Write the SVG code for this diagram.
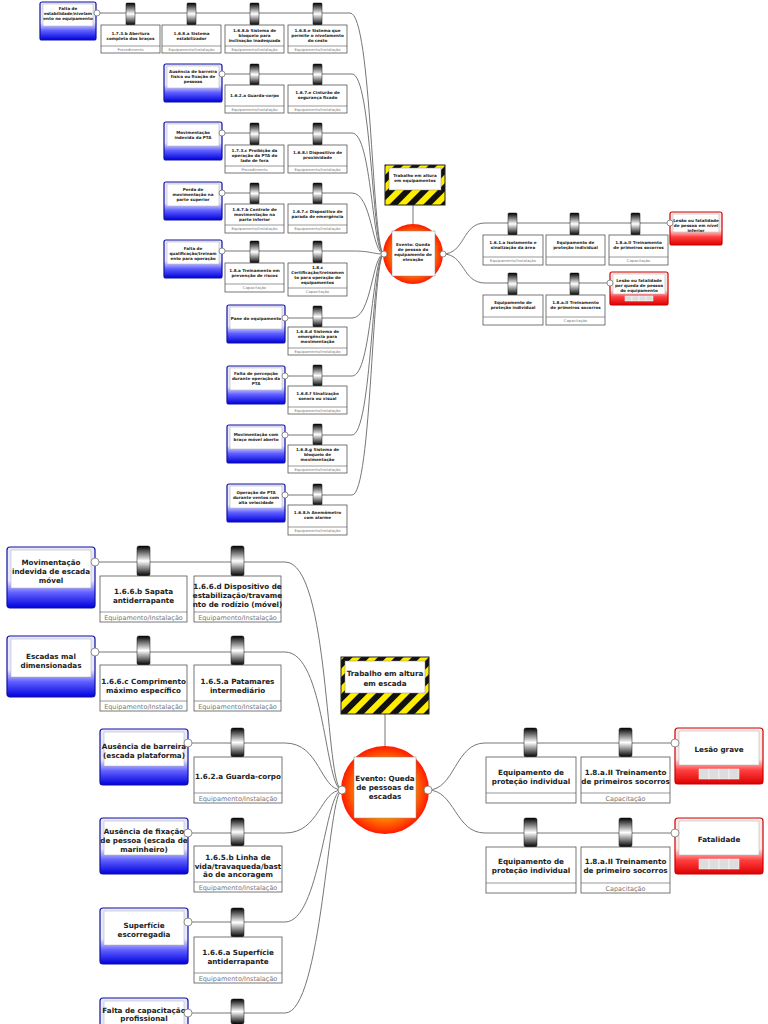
<svg xmlns="http://www.w3.org/2000/svg" width="768" height="1024" viewBox="0 0 768 1024">
<style>
.c{fill:none;stroke:#777;stroke-width:1}
.bx{fill:#fff;stroke:#555;stroke-width:.8}
.dv{stroke:#555;stroke-width:.6}
.t{font-family:"DejaVu Sans",sans-serif;font-weight:bold;fill:#222;text-anchor:middle}
.s{font-size:4.1px}.l{font-size:7.2px}
.k{font-family:"DejaVu Sans",sans-serif;fill:#777;text-anchor:middle}
.ks{font-size:3.8px}.kl{font-size:6.5px}
.th{fill:url(#bg);stroke:#1010a0;stroke-width:1.2}
.in{fill:#fff;stroke:#aaa;stroke-width:.5}
.br{fill:url(#bar);stroke:#111;stroke-width:.5}
.mn{fill:#fff;stroke:#666;stroke-width:.7}
.cq{fill:url(#rg);stroke:#c00;stroke-width:1.2}
.sq{fill:#ddd;stroke:#fff;stroke-width:.5}
</style>
<defs>
<linearGradient id="bg" x1="0" y1="0" x2="0" y2="1"><stop offset="0.55" stop-color="#e8e8ff"/><stop offset="0.75" stop-color="#6060ff"/><stop offset="1" stop-color="#0000dd"/></linearGradient>
<linearGradient id="rg" x1="0" y1="0" x2="0" y2="1"><stop offset="0.55" stop-color="#ffe8e8"/><stop offset="0.75" stop-color="#ff4040"/><stop offset="1" stop-color="#dd0000"/></linearGradient>
<linearGradient id="bar" x1="0" y1="0" x2="0" y2="1"><stop offset="0" stop-color="#000"/><stop offset="0.5" stop-color="#fff"/><stop offset="1" stop-color="#000"/></linearGradient>
<radialGradient id="ev" cx="0.5" cy="0.5" r="0.5"><stop offset="0.4" stop-color="#ffd000"/><stop offset="1" stop-color="#ff1a00"/></radialGradient>
<pattern id="hz" width="12" height="12" patternUnits="userSpaceOnUse" patternTransform="rotate(45)"><rect width="12" height="12" fill="#ffee00"/><rect width="6" height="12" fill="#111"/></pattern>
</defs>

<g id="connectors">
<path class="c" d="M100,13 H350 C372,13 372,254 384,254"/>
<path class="c" d="M225,74 H352 C372,74 372,254 384,254"/>
<path class="c" d="M225,133 H352 C372,133 372,254 384,254"/>
<path class="c" d="M225,193 H352 C372,193 372,254 384,254"/>
<path class="c" d="M225,251 H352 C372,251 372,254 384,254"/>
<path class="c" d="M288,318 H352 C372,318 372,254 384,254"/>
<path class="c" d="M288,376 H352 C372,376 372,254 384,254"/>
<path class="c" d="M288,435 H352 C372,435 372,254 384,254"/>
<path class="c" d="M288,495 H352 C372,495 372,254 384,254"/>
<path class="c" d="M413,205 V224"/>
<path class="c" d="M443,254 C465,254 462,223 485,223 H670"/>
<path class="c" d="M443,254 C465,254 462,283 485,283 H610"/>
<path class="c" d="M99,562 H285 C330,562 325,790 342,790"/>
<path class="c" d="M99,652 H285 C325,652 325,790 342,790"/>
<path class="c" d="M192,743 H285 C320,743 320,790 342,790"/>
<path class="c" d="M192,833 H285 C320,833 320,790 342,790"/>
<path class="c" d="M192,922 H285 C320,922 325,790 342,790"/>
<path class="c" d="M192,1013 H285 C322,1013 328,790 342,790"/>
<path class="c" d="M385,714 V746"/>
<path class="c" d="M428,790 C455,790 455,743 485,743 H675"/>
<path class="c" d="M428,790 C455,790 455,833 485,833 H675"/>
</g>

<g id="hazard1"><rect x="385" y="165" width="60" height="40" fill="url(#hz)" stroke="#222"/><rect x="389" y="168" width="52" height="22" fill="#fff" stroke="#888" stroke-width=".5"/><text class="t s" x="415" y="177">Trabalho em altura<tspan x="415" dy="5">em equipamentos</tspan></text></g>
<g id="event1"><circle cx="413" cy="254" r="30" fill="url(#ev)"/><rect x="392" y="231" width="43" height="45" fill="#fff" stroke="#888" stroke-width=".5"/><text class="t s" x="413" y="246">Evento: Queda<tspan x="413" dy="5">de pessoa do</tspan><tspan x="413" dy="5">equipamento de</tspan><tspan x="413" dy="5">elevação</tspan></text><circle class="mn" cx="384" cy="254" r="3"/><circle class="mn" cx="443" cy="254" r="3"/></g>

<g id="t1"><rect class="th" x="40" y="2" width="56" height="38" rx="2"/><rect class="in" x="43" y="4" width="50" height="22"/><text class="t s" x="68" y="10">Falta de<tspan x="68" dy="5">estabilidade/nivelam</tspan><tspan x="68" dy="5">ento no equipamento</tspan></text><circle class="mn" cx="97" cy="13" r="3"/></g>
<g id="t2"><rect class="th" x="164" y="64" width="58" height="38" rx="2"/><rect class="in" x="167" y="66" width="52" height="22"/><text class="t s" x="193" y="73">Ausência de barreira<tspan x="193" dy="5">física ou fixação de</tspan><tspan x="193" dy="5">pessoas</tspan></text><circle class="mn" cx="222" cy="74" r="3"/></g>
<g id="t3"><rect class="th" x="164" y="122" width="58" height="38" rx="2"/><rect class="in" x="167" y="124" width="52" height="22"/><text class="t s" x="193" y="134">Movimentação<tspan x="193" dy="5">indevida da PTA</tspan></text><circle class="mn" cx="222" cy="133" r="3"/></g>
<g id="t4"><rect class="th" x="164" y="182" width="58" height="38" rx="2"/><rect class="in" x="167" y="184" width="52" height="22"/><text class="t s" x="193" y="191">Perda de<tspan x="193" dy="5">movimentação na</tspan><tspan x="193" dy="5">parte superior</tspan></text><circle class="mn" cx="222" cy="193" r="3"/></g>
<g id="t5"><rect class="th" x="164" y="240" width="58" height="38" rx="2"/><rect class="in" x="167" y="242" width="52" height="22"/><text class="t s" x="193" y="250">Falta de<tspan x="193" dy="5">qualificação/treinam</tspan><tspan x="193" dy="5">ento para operação</tspan></text><circle class="mn" cx="222" cy="251" r="3"/></g>
<g id="t6"><rect class="th" x="227" y="305" width="58" height="38" rx="2"/><rect class="in" x="230" y="307" width="52" height="22"/><text class="t s" x="256" y="320">Pane do equipamento</text><circle class="mn" cx="285" cy="318" r="3"/></g>
<g id="t7"><rect class="th" x="227" y="366" width="58" height="38" rx="2"/><rect class="in" x="230" y="368" width="52" height="22"/><text class="t s" x="256" y="375">Falta de percepção<tspan x="256" dy="5">durante operação da</tspan><tspan x="256" dy="5">PTA</tspan></text><circle class="mn" cx="285" cy="376" r="3"/></g>
<g id="t8"><rect class="th" x="227" y="425" width="58" height="38" rx="2"/><rect class="in" x="230" y="427" width="52" height="22"/><text class="t s" x="256" y="436">Movimentação com<tspan x="256" dy="5">braço móvel aberto</tspan></text><circle class="mn" cx="285" cy="435" r="3"/></g>
<g id="t9"><rect class="th" x="227" y="484" width="58" height="38" rx="2"/><rect class="in" x="230" y="486" width="52" height="22"/><text class="t s" x="256" y="494">Operação de PTA<tspan x="256" dy="5">durante ventos com</tspan><tspan x="256" dy="5">alta velocidade</tspan></text><circle class="mn" cx="285" cy="495" r="3"/></g>

<g id="b1a"><rect class="br" x="126" y="3" width="9" height="22" rx="1"/><rect class="bx" x="101" y="25" width="59" height="28"/><line class="dv" x1="101" y1="46" x2="160" y2="46"/><text class="t s" x="130.5" y="35">1.7.3.b Abertura<tspan x="130.5" dy="5">completa dos braços</tspan></text><text class="k ks" x="130.5" y="51">Procedimento</text></g>
<g id="b1b"><rect class="br" x="187" y="3" width="9" height="22" rx="1"/><rect class="bx" x="162" y="25" width="59" height="28"/><line class="dv" x1="162" y1="46" x2="221" y2="46"/><text class="t s" x="191.5" y="35">1.6.8.a Sistema<tspan x="191.5" dy="5">estabilizador</tspan></text><text class="k ks" x="191.5" y="51">Equipamento/Instalação</text></g>
<g id="b1c"><rect class="br" x="250" y="3" width="9" height="22" rx="1"/><rect class="bx" x="225" y="25" width="59" height="28"/><line class="dv" x1="225" y1="46" x2="284" y2="46"/><text class="t s" x="254.5" y="32">1.6.8.b Sistema de<tspan x="254.5" dy="5">bloqueio para</tspan><tspan x="254.5" dy="5">inclinação inadequada</tspan></text><text class="k ks" x="254.5" y="51">Equipamento/Instalação</text></g>
<g id="b1d"><rect class="br" x="313" y="3" width="9" height="22" rx="1"/><rect class="bx" x="288" y="25" width="59" height="28"/><line class="dv" x1="288" y1="46" x2="347" y2="46"/><text class="t s" x="317.5" y="32">1.6.8.e Sistema que<tspan x="317.5" dy="5">permite o nivelamento</tspan><tspan x="317.5" dy="5">do cesto</tspan></text><text class="k ks" x="317.5" y="51">Equipamento/Instalação</text></g>

<g id="b2a"><rect class="br" x="250" y="64" width="9" height="21" rx="1"/><rect class="bx" x="225" y="85" width="59" height="28"/><line class="dv" x1="225" y1="106" x2="284" y2="106"/><text class="t s" x="254.5" y="97">1.6.2.a Guarda-corpo</text><text class="k ks" x="254.5" y="111">Equipamento/Instalação</text></g>
<g id="b2b"><rect class="br" x="313" y="64" width="9" height="21" rx="1"/><rect class="bx" x="288" y="85" width="59" height="28"/><line class="dv" x1="288" y1="106" x2="347" y2="106"/><text class="t s" x="317.5" y="94">1.6.7.e Cinturão de<tspan x="317.5" dy="5">segurança fixado</tspan></text><text class="k ks" x="317.5" y="111">Equipamento/Instalação</text></g>

<g id="b3a"><rect class="br" x="250" y="123" width="9" height="22" rx="1"/><rect class="bx" x="225" y="145" width="59" height="28"/><line class="dv" x1="225" y1="166" x2="284" y2="166"/><text class="t s" x="254.5" y="152">1.7.3.c Proibição da<tspan x="254.5" dy="5">operação da PTA do</tspan><tspan x="254.5" dy="5">lado de fora</tspan></text><text class="k ks" x="254.5" y="171">Procedimento</text></g>
<g id="b3b"><rect class="br" x="313" y="123" width="9" height="22" rx="1"/><rect class="bx" x="288" y="145" width="59" height="28"/><line class="dv" x1="288" y1="166" x2="347" y2="166"/><text class="t s" x="317.5" y="154">1.6.8.i Dispositivo de<tspan x="317.5" dy="5">proximidade</tspan></text><text class="k ks" x="317.5" y="171">Equipamento/Instalação</text></g>

<g id="b4a"><rect class="br" x="250" y="183" width="9" height="21" rx="1"/><rect class="bx" x="225" y="204" width="59" height="29"/><line class="dv" x1="225" y1="225" x2="284" y2="225"/><text class="t s" x="254.5" y="211">1.6.7.b Controle de<tspan x="254.5" dy="5">movimentação na</tspan><tspan x="254.5" dy="5">parte inferior</tspan></text><text class="k ks" x="254.5" y="230">Equipamento/Instalação</text></g>
<g id="b4b"><rect class="br" x="313" y="183" width="9" height="21" rx="1"/><rect class="bx" x="288" y="204" width="59" height="29"/><line class="dv" x1="288" y1="225" x2="347" y2="225"/><text class="t s" x="317.5" y="213">1.6.7.c Dispositivo de<tspan x="317.5" dy="5">parada de emergência</tspan></text><text class="k ks" x="317.5" y="230">Equipamento/Instalação</text></g>

<g id="b5a"><rect class="br" x="250" y="241" width="9" height="22" rx="1"/><rect class="bx" x="225" y="263" width="59" height="29"/><line class="dv" x1="225" y1="284" x2="284" y2="284"/><text class="t s" x="254.5" y="272">1.8.a Treinamento em<tspan x="254.5" dy="5">prevenção de riscos</tspan></text><text class="k ks" x="254.5" y="289">Capacitação</text></g>
<g id="b5b"><rect class="br" x="313" y="241" width="9" height="22" rx="1"/><rect class="bx" x="288" y="263" width="59" height="33"/><line class="dv" x1="288" y1="288" x2="347" y2="288"/><text class="t s" x="317.5" y="269">1.8.c<tspan x="317.5" dy="5">Certificação/treinamen</tspan><tspan x="317.5" dy="5">to para operação de</tspan><tspan x="317.5" dy="5">equipamentos</tspan></text><text class="k ks" x="317.5" y="293">Capacitação</text></g>

<g id="b6"><rect class="br" x="313" y="306" width="9" height="21" rx="1"/><rect class="bx" x="288" y="327" width="59" height="28"/><line class="dv" x1="288" y1="348" x2="347" y2="348"/><text class="t s" x="317.5" y="333">1.6.8.d Sistema de<tspan x="317.5" dy="5">emergência para</tspan><tspan x="317.5" dy="5">movimentação</tspan></text><text class="k ks" x="317.5" y="353">Equipamento/Instalação</text></g>
<g id="b7"><rect class="br" x="313" y="365" width="9" height="21" rx="1"/><rect class="bx" x="288" y="386" width="59" height="28"/><line class="dv" x1="288" y1="407" x2="347" y2="407"/><text class="t s" x="317.5" y="395">1.6.8.f Sinalização<tspan x="317.5" dy="5">sonora ou visual</tspan></text><text class="k ks" x="317.5" y="412">Equipamento/Instalação</text></g>
<g id="b8"><rect class="br" x="313" y="424" width="9" height="21" rx="1"/><rect class="bx" x="288" y="445" width="59" height="28"/><line class="dv" x1="288" y1="466" x2="347" y2="466"/><text class="t s" x="317.5" y="451">1.6.8.g Sistema de<tspan x="317.5" dy="5">bloqueio de</tspan><tspan x="317.5" dy="5">movimentação</tspan></text><text class="k ks" x="317.5" y="471">Equipamento/Instalação</text></g>
<g id="b9"><rect class="br" x="313" y="484" width="9" height="21" rx="1"/><rect class="bx" x="288" y="505" width="59" height="30"/><line class="dv" x1="288" y1="527" x2="347" y2="527"/><text class="t s" x="317.5" y="514">1.6.8.h Anemômetro<tspan x="317.5" dy="5">com alarme</tspan></text><text class="k ks" x="317.5" y="532">Equipamento/Instalação</text></g>

<g id="r1a"><rect class="br" x="508" y="213" width="9" height="22" rx="1"/><rect class="bx" x="483" y="235" width="60" height="30"/><line class="dv" x1="483" y1="257" x2="543" y2="257"/><text class="t s" x="513" y="244">1.6.1.a Isolamento e<tspan x="513" dy="5">sinalização da área</tspan></text><text class="k ks" x="513" y="262">Equipamento/Instalação</text></g>
<g id="r1b"><rect class="br" x="570" y="213" width="9" height="22" rx="1"/><rect class="bx" x="546" y="235" width="59" height="30"/><line class="dv" x1="546" y1="257" x2="605" y2="257"/><text class="t s" x="575.5" y="244">Equipamento de<tspan x="575.5" dy="5">proteção individual</tspan></text></g>
<g id="r1c"><rect class="br" x="631" y="213" width="9" height="22" rx="1"/><rect class="bx" x="609" y="235" width="59" height="30"/><line class="dv" x1="609" y1="257" x2="668" y2="257"/><text class="t s" x="638.5" y="244">1.8.a.II Treinamento<tspan x="638.5" dy="5">de primeiros socorros</tspan></text><text class="k ks" x="638.5" y="262">Capacitação</text></g>
<g id="r2a"><rect class="br" x="508" y="273" width="9" height="22" rx="1"/><rect class="bx" x="483" y="295" width="60" height="30"/><line class="dv" x1="483" y1="317" x2="543" y2="317"/><text class="t s" x="513" y="304">Equipamento de<tspan x="513" dy="5">proteção individual</tspan></text></g>
<g id="r2b"><rect class="br" x="570" y="273" width="9" height="22" rx="1"/><rect class="bx" x="546" y="295" width="59" height="30"/><line class="dv" x1="546" y1="317" x2="605" y2="317"/><text class="t s" x="575.5" y="304">1.8.a.II Treinamento<tspan x="575.5" dy="5">de primeiros socorros</tspan></text><text class="k ks" x="575.5" y="322">Capacitação</text></g>
<g id="cq1"><rect class="cq" x="670" y="212" width="52" height="33" rx="2"/><rect class="in" x="673" y="214" width="46" height="18"/><text class="t s" x="696" y="222">Lesão ou fatalidade<tspan x="696" dy="5">de pessoa em nível</tspan><tspan x="696" dy="5">inferior</tspan></text><circle class="mn" cx="670" cy="223" r="3"/></g>
<g id="cq2"><rect class="cq" x="610" y="272" width="58" height="33" rx="2"/><rect class="in" x="613" y="274" width="52" height="20"/><text class="t s" x="639" y="282">Lesão ou fatalidade<tspan x="639" dy="5">por queda de pessoa</tspan><tspan x="639" dy="5">do equipamento</tspan></text><rect class="sq" x="625" y="296" width="7" height="5"/><rect class="sq" x="632" y="296" width="7" height="5"/><rect class="sq" x="639" y="296" width="7" height="5"/><rect class="sq" x="646" y="296" width="7" height="5"/><circle class="mn" cx="610" cy="283" r="3"/></g>

<g id="hazard2"><rect x="341" y="657" width="88" height="57" fill="url(#hz)" stroke="#222"/><rect x="345" y="661" width="80" height="32" fill="#fff" stroke="#888" stroke-width=".5"/><text class="t l" x="385" y="676">Trabalho em altura<tspan x="385" dy="10">em escada</tspan></text></g>
<g id="event2"><circle cx="385" cy="790" r="44" fill="url(#ev)"/><rect x="354" y="757" width="62" height="61" fill="#fff" stroke="#888" stroke-width=".5"/><text class="t l" x="385" y="781">Evento: Queda<tspan x="385" dy="9">de pessoas de</tspan><tspan x="385" dy="9">escadas</tspan></text><circle class="mn" cx="342" cy="790" r="4"/><circle class="mn" cx="428" cy="790" r="4"/></g>

<g id="u1"><rect class="th" x="7" y="547" width="88" height="61" rx="3"/><rect class="in" x="11" y="550" width="80" height="38"/><text class="t l" x="51" y="565">Movimentação<tspan x="51" dy="9">indevida de escada</tspan><tspan x="51" dy="9">móvel</tspan></text><circle class="mn" cx="95" cy="562" r="4"/></g>
<g id="u2"><rect class="th" x="7" y="636" width="88" height="61" rx="3"/><rect class="in" x="11" y="639" width="80" height="38"/><text class="t l" x="51" y="659">Escadas mal<tspan x="51" dy="9">dimensionadas</tspan></text><circle class="mn" cx="95" cy="652" r="4"/></g>
<g id="u3"><rect class="th" x="100" y="729" width="88" height="56" rx="3"/><rect class="in" x="104" y="732" width="80" height="34"/><text class="t l" x="144" y="749">Ausência de barreira<tspan x="144" dy="9">(escada plataforma)</tspan></text><circle class="mn" cx="188" cy="743" r="4"/></g>
<g id="u4"><rect class="th" x="100" y="818" width="88" height="56" rx="3"/><rect class="in" x="104" y="821" width="80" height="34"/><text class="t l" x="144" y="834">Ausência de fixação<tspan x="144" dy="9">de pessoa (escada de</tspan><tspan x="144" dy="9">marinheiro)</tspan></text><circle class="mn" cx="188" cy="833" r="4"/></g>
<g id="u5"><rect class="th" x="100" y="908" width="88" height="56" rx="3"/><rect class="in" x="104" y="911" width="80" height="34"/><text class="t l" x="144" y="928">Superfície<tspan x="144" dy="9">escorregadia</tspan></text><circle class="mn" cx="188" cy="922" r="4"/></g>
<g id="u6"><rect class="th" x="100" y="998" width="88" height="56" rx="3"/><rect class="in" x="104" y="1001" width="80" height="34"/><text class="t l" x="144" y="1013">Falta de capacitação<tspan x="144" dy="8">profissional</tspan></text><circle class="mn" cx="188" cy="1013" r="4"/></g>

<g id="v1a"><rect class="br" x="137" y="546" width="13" height="30" rx="2"/><rect class="bx" x="100" y="576" width="87" height="46"/><line class="dv" x1="100" y1="612" x2="187" y2="612"/><text class="t l" x="143.5" y="594">1.6.6.b Sapata<tspan x="143.5" dy="9">antiderrapante</tspan></text><text class="k kl" x="143.5" y="620">Equipamento/Instalação</text></g>
<g id="v1b"><rect class="br" x="231" y="546" width="13" height="30" rx="2"/><rect class="bx" x="194" y="576" width="87" height="46"/><line class="dv" x1="194" y1="612" x2="281" y2="612"/><text class="t l" x="237.5" y="589">1.6.6.d Dispositivo de<tspan x="237.5" dy="9">estabilização/travame</tspan><tspan x="237.5" dy="9">nto de rodízio (móvel)</tspan></text><text class="k kl" x="237.5" y="620">Equipamento/Instalação</text></g>
<g id="v2a"><rect class="br" x="137" y="636" width="13" height="29" rx="2"/><rect class="bx" x="100" y="665" width="87" height="46"/><line class="dv" x1="100" y1="701" x2="187" y2="701"/><text class="t l" x="143.5" y="684">1.6.6.c Comprimento<tspan x="143.5" dy="9">máximo específico</tspan></text><text class="k kl" x="143.5" y="709">Equipamento/Instalação</text></g>
<g id="v2b"><rect class="br" x="231" y="636" width="13" height="29" rx="2"/><rect class="bx" x="194" y="665" width="87" height="46"/><line class="dv" x1="194" y1="701" x2="281" y2="701"/><text class="t l" x="237.5" y="684">1.6.5.a Patamares<tspan x="237.5" dy="9">intermediário</tspan></text><text class="k kl" x="237.5" y="709">Equipamento/Instalação</text></g>
<g id="v3"><rect class="br" x="231" y="728" width="13" height="29" rx="2"/><rect class="bx" x="194" y="757" width="88" height="46"/><line class="dv" x1="194" y1="793" x2="282" y2="793"/><text class="t l" x="238" y="779">1.6.2.a Guarda-corpo</text><text class="k kl" x="238" y="801">Equipamento/Instalação</text></g>
<g id="v4"><rect class="br" x="231" y="818" width="13" height="28" rx="2"/><rect class="bx" x="194" y="846" width="88" height="46"/><line class="dv" x1="194" y1="882" x2="282" y2="882"/><text class="t l" x="238" y="860">1.6.5.b Linha de<tspan x="238" dy="8.5">vida/travaqueda/bast</tspan><tspan x="238" dy="8.5">ão de ancoragem</tspan></text><text class="k kl" x="238" y="890">Equipamento/Instalação</text></g>
<g id="v5"><rect class="br" x="231" y="908" width="13" height="29" rx="2"/><rect class="bx" x="194" y="937" width="88" height="46"/><line class="dv" x1="194" y1="973" x2="282" y2="973"/><text class="t l" x="238" y="955">1.6.6.a Superfície<tspan x="238" dy="9">antiderrapante</tspan></text><text class="k kl" x="238" y="981">Equipamento/Instalação</text></g>
<g id="v6"><rect class="br" x="231" y="999" width="13" height="25" rx="2"/></g>

<g id="w1a"><rect class="br" x="524" y="728" width="13" height="29" rx="2"/><rect class="bx" x="486" y="757" width="90" height="46"/><line class="dv" x1="486" y1="793" x2="576" y2="793"/><text class="t l" x="531" y="775">Equipamento de<tspan x="531" dy="9">proteção individual</tspan></text></g>
<g id="w1b"><rect class="br" x="619" y="728" width="13" height="29" rx="2"/><rect class="bx" x="581" y="757" width="89" height="46"/><line class="dv" x1="581" y1="793" x2="670" y2="793"/><text class="t l" x="625.5" y="775">1.8.a.II Treinamento<tspan x="625.5" dy="9">de primeiros socorros</tspan></text><text class="k kl" x="625.5" y="801">Capacitação</text></g>
<g id="w2a"><rect class="br" x="524" y="818" width="13" height="29" rx="2"/><rect class="bx" x="486" y="847" width="90" height="46"/><line class="dv" x1="486" y1="883" x2="576" y2="883"/><text class="t l" x="531" y="864">Equipamento de<tspan x="531" dy="9">proteção individual</tspan></text></g>
<g id="w2b"><rect class="br" x="619" y="818" width="13" height="29" rx="2"/><rect class="bx" x="581" y="847" width="89" height="46"/><line class="dv" x1="581" y1="883" x2="670" y2="883"/><text class="t l" x="625.5" y="864">1.8.a.II Treinamento<tspan x="625.5" dy="9">de primeiro socorros</tspan></text><text class="k kl" x="625.5" y="891">Capacitação</text></g>
<g id="cq3"><rect class="cq" x="675" y="728" width="88" height="56" rx="3"/><rect class="in" x="679" y="731" width="80" height="34"/><text class="t l" x="719" y="752">Lesão grave</text><rect class="sq" x="699" y="769" width="10" height="10"/><rect class="sq" x="709" y="769" width="10" height="10"/><rect class="sq" x="719" y="769" width="10" height="10"/><rect class="sq" x="729" y="769" width="10" height="10"/><circle class="mn" cx="675" cy="743" r="4"/></g>
<g id="cq4"><rect class="cq" x="675" y="818" width="88" height="56" rx="3"/><rect class="in" x="679" y="821" width="80" height="34"/><text class="t l" x="719" y="842">Fatalidade</text><rect class="sq" x="699" y="859" width="10" height="10"/><rect class="sq" x="709" y="859" width="10" height="10"/><rect class="sq" x="719" y="859" width="10" height="10"/><rect class="sq" x="729" y="859" width="10" height="10"/><circle class="mn" cx="675" cy="833" r="4"/></g>
</svg>
